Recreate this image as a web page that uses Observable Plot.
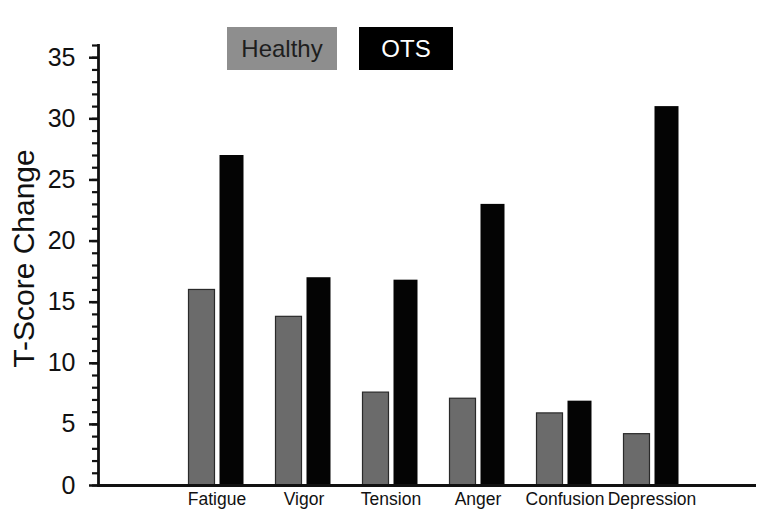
<!DOCTYPE html>
<html><head><meta charset="utf-8">
<script src="https://cdn.jsdelivr.net/npm/d3@7"></script>
<script src="https://cdn.jsdelivr.net/npm/@observablehq/plot@0.6"></script>
<style>
body{margin:0;background:#fff;font-family:"Liberation Sans",Arial,sans-serif;}
#wrap{position:relative;width:768px;height:528px;background:#fff;}
#wrap svg{position:absolute;left:0;top:0;}
.lg{position:absolute;top:27px;height:43px;display:flex;align-items:center;justify-content:center;font-size:24px;z-index:2;}
</style></head><body><div id="wrap"></div>
<script>
const categories = ["Fatigue","Vigor","Tension","Anger","Confusion","Depression"];
const groups = ["Healthy","OTS"];
const healthy = [16, 13.8, 7.6, 7.1, 5.9, 4.2];
const ots = [27, 17, 16.8, 23, 6.9, 31];
const yMajorTicks = [0,5,10,15,20,25,30,35];
const yMinorTicks = d3.range(0, 37, 1);
const yLabel = "T-Score Change";

const data = categories.flatMap((c, i) => [
  {cat: c, group: groups[0], value: healthy[i]},
  {cat: c, group: groups[1], value: ots[i]}
]);

const chart = Plot.plot({
  width: 768, height: 528,
  marginLeft: 98, marginRight: 12, marginTop: 45, marginBottom: 43,
  style: {fontFamily: '"Liberation Sans", Arial, sans-serif', background: "transparent", color: "#111"},
  x: {type: "band", domain: categories, range: [171.3, 696.3], padding: 0, label: null},
  y: {domain: [0, 36], label: null},
  marks: [
    Plot.barY(data.filter(d => d.group === groups[0]), {x: "cat", y: "value", fill: "#6b6b6b", stroke: "#2a2a2a", strokeWidth: 1.2, insetLeft: 15.5, insetRight: 45.5}),
    Plot.barY(data.filter(d => d.group === groups[1]), {x: "cat", y: "value", fill: "#040404", insetLeft: 46.5, insetRight: 16.5}),
    Plot.axisY({ticks: yMinorTicks, tickSize: 6, tickFormat: () => "", strokeWidth: 2.2, label: null}),
    Plot.axisY({ticks: yMajorTicks, tickSize: 9, tickPadding: 14, fontSize: 25, strokeWidth: 2.5, label: null}),
    Plot.frame({anchor: "left", strokeWidth: 2.8}),
    Plot.ruleY([0], {strokeWidth: 3}),
    Plot.axisX({tickSize: 0, tickPadding: 7, fontSize: 17.5, label: null}),
    Plot.text([yLabel], {frameAnchor: "left", textAnchor: "middle", rotate: -90, dx: -74, dy: -7, fontSize: 30, fill: "#111"})
  ]
});
const wrap = document.getElementById("wrap");
wrap.appendChild(chart);

const legendStyles = [
  {left: 227, width: 110, bg: "#8e8e8e", color: "#1e1e1e"},
  {left: 359, width: 94, bg: "#000", color: "#fff"}
];
groups.forEach((g, i) => {
  const d = document.createElement("div");
  d.className = "lg";
  d.style.left = legendStyles[i].left + "px";
  d.style.width = legendStyles[i].width + "px";
  d.style.background = legendStyles[i].bg;
  d.style.color = legendStyles[i].color;
  d.textContent = g;
  wrap.appendChild(d);
});
</script>
</body></html>
